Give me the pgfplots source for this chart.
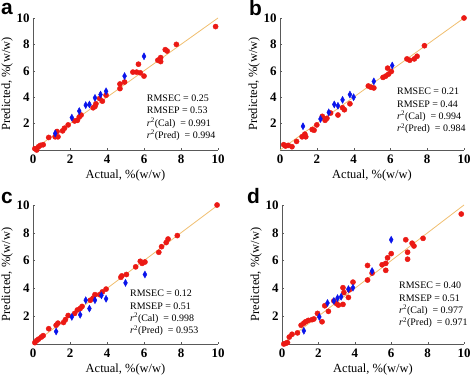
\documentclass[border=0pt]{standalone}
\usepackage{pgfplots}
\pgfplotsset{compat=1.18}
\usepackage{fontspec}
\setmainfont{Liberation Serif}
\newfontfamily\letterfont{Liberation Sans}
\definecolor{dred}{RGB}{235,25,20}
\definecolor{dblue}{RGB}{10,20,235}
\definecolor{diag}{RGB}{240,190,110}

\pgfplotstableread{
x y
0.1 0.1
0.2 0.0
0.3 0.25
0.4 0.35
0.55 0.4
0.85 0.95
1.2 1.0
1.3 1.4
1.35 1.0
1.6 1.45
1.7 1.65
1.9 1.9
2.25 2.2
2.4 2.25
2.5 2.5
2.6 2.65
3.25 3.2
3.35 3.3
3.4 3.5
3.6 3.9
3.75 3.7
3.95 4.15
4.7 5.0
4.7 4.65
4.95 5.15
5.4 5.9
5.6 5.9
5.7 6.5
5.8 5.85
6.0 5.6
6.75 6.8
6.9 6.7
6.9 7.0
7.15 7.6
7.25 7.5
7.75 8.0
9.87 9.35
}\redA
\pgfplotstableread{
x y
1.2 1.25
2.1 2.45
2.5 2.95
2.85 3.4
3.05 3.45
3.35 3.95
3.65 4.2
3.95 4.45
4.95 5.6
6.0 7.1
}\blueA
\pgfplotstableread{
x y
0.2 0.4
0.3 0.3
0.45 0.35
0.65 0.25
0.9 0.65
1.2 1.0
1.35 1.2
1.4 1.0
1.75 1.55
1.85 1.5
2.0 1.9
2.3 2.55
2.45 2.25
2.55 2.4
2.75 2.8
3.15 2.65
3.4 3.2
3.5 3.05
3.8 3.5
4.8 4.85
4.95 4.75
5.1 4.7
5.6 5.5
5.75 5.6
5.85 6.2
5.9 5.75
6.05 5.95
6.9 6.9
7.05 6.8
7.3 6.9
7.45 7.1
7.85 7.9
10.0 10.0
}\redB
\pgfplotstableread{
x y
1.25 1.8
2.2 2.35
2.65 2.85
2.95 3.45
3.15 3.35
3.4 3.8
3.8 4.2
4.0 4.0
5.1 5.2
6.1 6.4
}\blueB
\pgfplotstableread{
x y
0.1 0.1
0.2 0.25
0.3 0.35
0.45 0.5
0.55 0.6
0.85 1.1
1.25 1.35
1.35 1.5
1.65 1.55
1.75 1.75
1.9 2.05
2.25 2.2
2.4 2.45
2.55 2.55
2.65 2.7
3.1 3.15
3.25 3.3
3.35 3.55
3.6 3.55
3.75 3.75
3.95 3.95
4.75 4.8
4.8 4.9
5.05 5.0
5.55 5.55
5.8 5.95
5.9 5.8
6.05 5.9
6.8 6.6
6.95 7.0
7.2 7.3
7.3 7.55
7.8 7.8
9.95 10.0
}\redC
\pgfplotstableread{
x y
1.25 0.9
2.1 1.95
2.55 2.1
2.85 3.15
3.05 2.55
3.35 3.15
3.7 3.5
3.95 3.25
5.0 4.4
6.05 5.0
}\blueC
\pgfplotstableread{
x y
0.1 0.0
0.2 0.05
0.3 0.1
0.4 0.5
0.55 0.7
0.85 0.8
1.05 1.35
1.2 1.5
1.3 1.6
1.45 1.7
1.65 1.75
1.75 1.8
1.95 2.2
2.2 1.6
2.35 2.75
2.55 2.35
2.85 3.1
3.0 2.9
3.1 2.8
3.35 2.85
3.35 4.05
3.4 3.7
3.65 3.35
3.7 3.9
3.9 4.45
4.7 5.65
4.7 4.6
4.95 5.1
5.5 5.7
5.7 5.8
5.7 5.3
5.8 6.2
6.0 6.5
6.8 7.5
6.9 6.6
6.9 6.1
7.15 7.25
7.25 7.05
7.75 7.6
9.85 9.35
}\redD
\pgfplotstableread{
x y
1.2 0.95
2.05 1.95
2.5 2.95
2.85 3.1
3.05 3.3
3.25 3.4
3.65 3.95
3.9 4.05
4.95 5.25
6.0 7.5
}\blueD

\pgfplotsset{
  panel/.style={
    anchor=south west, scale only axis,
    xmin=0, xmax=10, ymin=0, ymax=10,
    axis x line*=bottom, axis y line*=left,
    axis line style={-, black!65, line width=0.5pt},
    xtick={0,2,4,6,8,10}, ytick={2,4,6,8,10},
    tick align=inside, major tick length=2bp,
    tick style={black!65},
    xticklabel={\textbf{\fontsize{13}{13}\selectfont\pgfmathprintnumber[assume math mode=true]{\tick}}},
    yticklabel={\textbf{\fontsize{13}{13}\selectfont\pgfmathprintnumber[assume math mode=true]{\tick}}},
    xticklabel style={yshift=-1bp},
    label style={font=\fontsize{12.5}{14}\selectfont},
    xlabel={Actual, \%(w/w)},
    ylabel={Predicted, \%(w/w)},
    ylabel shift=-3bp,
    xtick pos=bottom, ytick pos=left,
    clip=false,
  },
  redpts/.style={only marks, mark=*, mark size=2.6bp, color=dred, mark options={draw=dred, fill=dred}},
  bluepts/.style={only marks, mark=diamond*, mark size=2.6bp, color=dblue, mark options={draw=dblue, fill=dblue, yscale=1.35}},
  diagline/.style={diag, line width=0.8pt},
}
\tikzset{statsnode/.style={anchor=north west, inner sep=0, align=left, font=\fontsize{10}{12.4}\selectfont}}
\newcommand{\stats}[4]{RMSEC = #1\\ RMSEP = #2\\ \textit{r}\textsuperscript{2}(Cal)~~= #3\\ \textit{r}\textsuperscript{2}(Pred)~~= #4}

\begin{document}
\begin{tikzpicture}
\useasboundingbox (0,0) rectangle (474bp,377bp);
% panel a
\begin{axis}[panel, at={(33bp,227bp)}, width=185bp, height=132bp]
\addplot[diagline] coordinates {(0,0) (10,10)};
\addplot[redpts] table {\redA};
\addplot[bluepts] table {\blueA};
\node[statsnode] at (axis cs:6.15,4.2) {\stats{0.25}{0.53}{0.991}{0.994}};
\end{axis}
% panel b
\begin{axis}[panel, at={(280bp,227bp)}, width=184bp, height=132bp]
\addplot[diagline] coordinates {(0,0) (10,10)};
\addplot[redpts] table {\redB};
\addplot[bluepts] table {\blueB};
\node[statsnode] at (axis cs:6.36,4.7) {\stats{0.21}{0.44}{0.994}{0.984}};
\end{axis}
% panel c
\begin{axis}[panel, at={(33bp,33bp)}, width=185bp, height=139bp]
\addplot[diagline] coordinates {(0,0) (10,10)};
\addplot[redpts] table {\redC};
\addplot[bluepts] table {\blueC};
\node[statsnode] at (axis cs:5.24,3.88) {\stats{0.12}{0.51}{0.998}{0.953}};
\end{axis}
% panel d
\begin{axis}[panel, at={(282bp,33bp)}, width=182bp, height=139bp]
\addplot[diagline] coordinates {(0,0) (10,10)};
\addplot[redpts] table {\redD};
\addplot[bluepts] table {\blueD};
\node[statsnode] at (axis cs:6.43,4.46) {\stats{0.40}{0.51}{0.977}{0.971}};
\end{axis}
% panel letters
\node[anchor=base west, inner sep=0, font=\letterfont\bfseries\fontsize{21}{21}\selectfont] at (1bp,362bp) {a};
\node[anchor=base west, inner sep=0, font=\letterfont\bfseries\fontsize{21}{21}\selectfont] at (249bp,361bp) {b};
\node[anchor=base west, inner sep=0, font=\letterfont\bfseries\fontsize{21}{21}\selectfont] at (1bp,173bp) {c};
\node[anchor=base west, inner sep=0, font=\letterfont\bfseries\fontsize{21}{21}\selectfont] at (247bp,173bp) {d};
\end{tikzpicture}
\end{document}
